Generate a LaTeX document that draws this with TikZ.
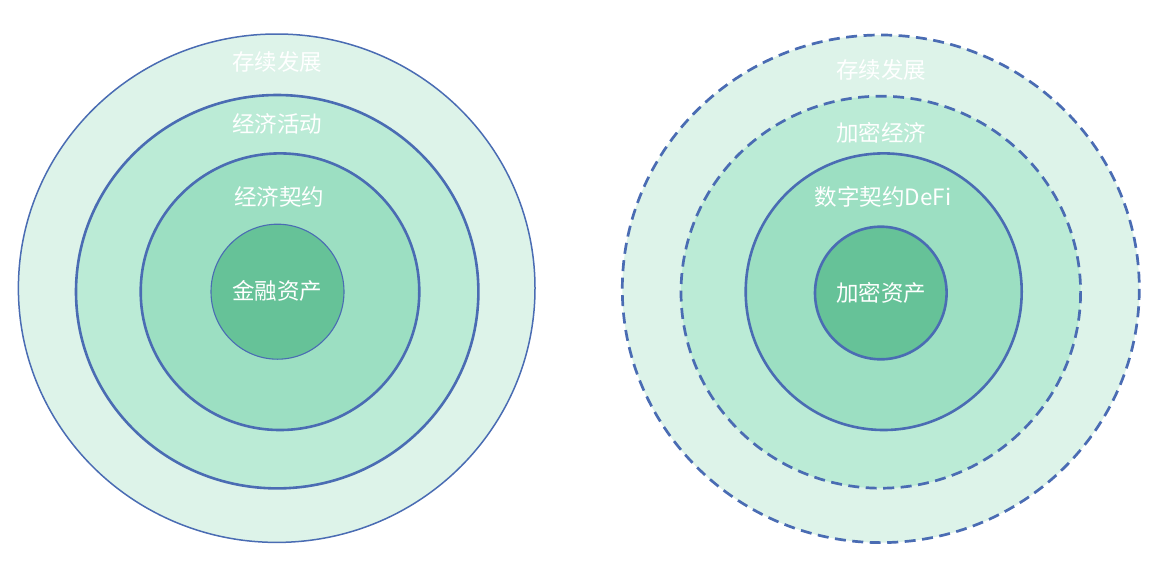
\documentclass[tikz,border=0pt]{standalone}
\usepackage{fontspec}
\newfontfamily\cjk{Noto Sans CJK SC}
\definecolor{ring}{HTML}{4A6CB3}
\definecolor{fillA}{HTML}{DDF3E9}
\definecolor{fillB}{HTML}{BBEBD6}
\definecolor{fillC}{HTML}{9CDFC2}
\definecolor{fillD}{HTML}{66C298}
\tikzset{
  lab/.style={text=white,font=\cjk\fontsize{22.5}{26}\selectfont,inner sep=0pt},
  thinring/.style={draw=ring,line width=1.5pt},
  thickring/.style={draw=ring,line width=2.6pt},
  dashring/.style={draw=ring,line width=2.7pt,dash pattern=on 11pt off 6.5pt},
}
\begin{document}
\begin{tikzpicture}[x=1pt,y=-1pt]
\useasboundingbox (0,0) rectangle (1162,576);
% left
\path[fill=fillA,thinring] (276.7,288.2) ellipse [x radius=258.3,y radius=254.2];
\path[fill=fillB,thickring] (277.2,291.7) ellipse [x radius=201.2,y radius=196.7];
\path[fill=fillC,thickring] (280,291.7) ellipse [x radius=139.3,y radius=138.3];
\path[fill=fillD,draw=ring,line width=1.1pt] (277.5,291.7) ellipse [x radius=66.5,y radius=67.5];
\node[lab] (l1) at (277,62) {存续发展};
\node[lab] (l2) at (277,124) {经济活动};
\node[lab] (l3) at (279,197) {经济契约};
\node[lab] (l4) at (277,291) {金融资产};
% right
\path[fill=fillA,dashring] (880.8,288.8) ellipse [x radius=258.5,y radius=253.8];
\path[fill=fillB,dashring] (880.8,292.2) ellipse [x radius=199.8,y radius=196];
\path[fill=fillC,thickring] (883.7,291.7) ellipse [x radius=138,y radius=138.3];
\path[fill=fillD,thickring] (880.8,293) ellipse [x radius=65.8,y radius=66.3];
\node[lab] (r1) at (881,70) {存续发展};
\node[lab] (r2) at (881,133) {加密经济};
\node[lab] (r3) at (883,197) {数字契约DeFi};
\node[lab] (r4) at (881,293) {加密资产};
\end{tikzpicture}
\end{document}
